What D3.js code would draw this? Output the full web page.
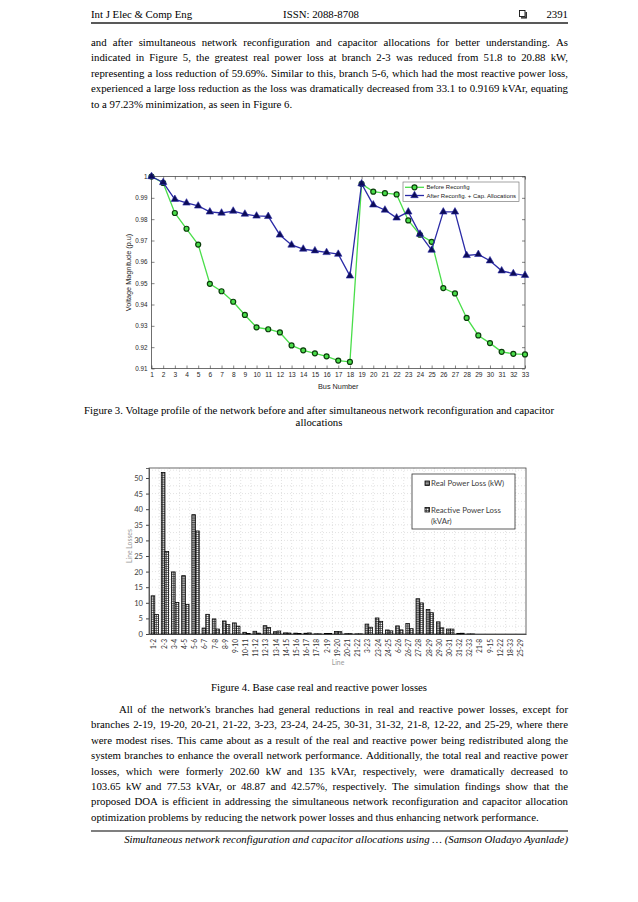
<!DOCTYPE html>
<html><head><meta charset="utf-8">
<script src="https://cdn.jsdelivr.net/npm/d3@7/dist/d3.min.js"></script>
<style>html,body{margin:0;padding:0;background:#fff}svg{display:block}</style>
</head><body>
<script>
// ---------------- DATA ----------------
const busNumbers = [1,2,3,4,5,6,7,8,9,10,11,12,13,14,15,16,17,18,19,20,21,22,23,24,25,26,27,28,29,30,31,32,33];
const voltBefore = [1.0,0.997,0.9829,0.9755,0.9681,0.9497,0.9462,0.9413,0.9351,0.9293,0.9284,0.9269,0.9208,0.9185,0.9171,0.9157,0.9137,0.9131,0.9965,0.9929,0.9922,0.9916,0.9794,0.9727,0.9694,0.9477,0.9452,0.9337,0.9255,0.9219,0.9178,0.9169,0.9166];
const voltAfter  = [1.0,0.9972,0.9893,0.9876,0.9862,0.9834,0.9829,0.9838,0.9824,0.9815,0.9813,0.9726,0.9679,0.9660,0.9652,0.9644,0.9636,0.9534,0.9966,0.9867,0.9843,0.9806,0.9834,0.9730,0.9655,0.9834,0.9834,0.9630,0.9635,0.9605,0.9558,0.9545,0.9537];
const voltTicks = [0.91,0.92,0.93,0.94,0.95,0.96,0.97,0.98,0.99,1];
const voltTickLabels = ["0.91","0.92","0.93","0.94","0.95","0.96","0.97","0.98","0.99","1"];
const voltSeriesNames = ["Before Reconfig","After Reconfig. + Cap. Allocations"];

const branches = ["1-2","2-3","3-4","4-5","5-6","6-7","7-8","8-9","9-10","10-11","11-12","12-13","13-14","14-15","15-16","16-17","17-18","2-19","19-20","20-21","21-22","3-23","23-24","24-25","6-26","26-27","27-28","28-29","29-30","30-31","31-32","32-33","21-8","9-15","12-22","18-33","25-29"];
const realLoss     = [12.24,51.8,19.9,18.7,38.25,1.91,4.84,4.18,3.56,0.55,0.88,2.66,0.73,0.36,0.28,0.25,0.05,0.16,0.83,0.10,0.04,3.18,5.14,1.29,2.60,3.33,11.30,7.83,3.89,1.59,0.21,0.01,0,0,0,0,0];
const reactiveLoss = [6.24,26.4,10.14,9.52,33.02,6.31,1.60,3.00,2.52,0.18,0.29,2.09,0.96,0.32,0.20,0.34,0.04,0.15,0.75,0.12,0.05,2.17,4.06,1.01,1.32,1.70,9.96,6.82,1.98,1.58,0.25,0.02,0,0,0,0,0];
const lossTicks = [0,5,10,15,20,25,30,35,40,45,50];
const lossSeriesNames = ["Real Power Loss (kW)","Reactive Power Loss","(kVAr)"];

// ---------------- TEXT ----------------
const headerLeft = "Int J Elec & Comp Eng", headerMid = "ISSN: 2088-8708", headerPage = "2391";
const para1 = [
 "and after simultaneous network reconfiguration and capacitor allocations for better understanding. As",
 "indicated in Figure 5, the greatest real power loss at branch 2-3 was reduced from 51.8 to 20.88 kW,",
 "representing a loss reduction of 59.69%. Similar to this, branch 5-6, which had the most reactive power loss,",
 "experienced a large loss reduction as the loss was dramatically decreased from 33.1 to 0.9169 kVAr, equating",
 "to a 97.23% minimization, as seen in Figure 6."];
const caption3 = ["Figure 3. Voltage profile of the network before and after simultaneous network reconfiguration and capacitor","allocations"];
const caption4 = "Figure 4. Base case real and reactive power losses";
const para2 = [
 "All of the network's branches had general reductions in real and reactive power losses, except for",
 "branches 2-19, 19-20, 20-21, 21-22, 3-23, 23-24, 24-25, 30-31, 31-32, 21-8, 12-22, and 25-29, where there",
 "were modest rises. This came about as a result of the real and reactive power being redistributed along the",
 "system branches to enhance the overall network performance. Additionally, the total real and reactive power",
 "losses, which were formerly 202.60 kW and 135 kVAr, respectively, were dramatically decreased to",
 "103.65 kW and 77.53 kVAr, or 48.87 and 42.57%, respectively. The simulation findings show that the",
 "proposed DOA is efficient in addressing the simultaneous network reconfiguration and capacitor allocation",
 "optimization problems by reducing the network power losses and thus enhancing network performance."];
const footer = "Simultaneous network reconfiguration and capacitor allocations using … (Samson Oladayo Ayanlade)";

// ---------------- PAGE ----------------
const W = 638, H = 902;
const SERIF = "'Liberation Serif','Times New Roman',Times,serif";
const SANS = "'Liberation Sans',Arial,Helvetica,sans-serif";
const CAL = "Lato,'Open Sans',sans-serif";
const FS = 10.8, LEFT = 91, RIGHT = 568;

const svg = d3.select("body").append("svg").attr("width", W).attr("height", H);
svg.append("rect").attr("width", W).attr("height", H).attr("fill", "#fff");

function plain(str, x, y, anchor, opts = {}) {
  return svg.append("text").attr("x", x).attr("y", y)
    .attr("font-family", opts.family || SERIF).attr("font-size", opts.size || FS)
    .attr("font-style", opts.italic ? "italic" : null)
    .attr("text-anchor", anchor || "start").attr("fill", opts.fill || "#000").text(str);
}
function justify(str, x0, x1, y) {
  const words = str.split(" ");
  const t = svg.append("text").attr("y", y).attr("font-family", SERIF).attr("font-size", FS).attr("fill", "#000");
  const spans = words.map(w => t.append("tspan").text(w));
  const widths = spans.map(s => s.node().getComputedTextLength());
  const gap = (x1 - x0 - d3.sum(widths)) / (words.length - 1);
  let x = x0;
  spans.forEach((s, i) => { s.attr("x", x); x += widths[i] + gap; });
}

// header
plain(headerLeft, LEFT, 18);
plain(headerMid, 321, 18, "middle");
plain(headerPage, RIGHT, 18, "end");
svg.append("rect").attr("x", 519.5).attr("y", 10.5).attr("width", 5.5).attr("height", 6)
  .attr("fill", "none").attr("stroke", "#111").attr("stroke-width", 0.9);
svg.append("path").attr("d", "M521,17.8H526.2V12").attr("fill", "none").attr("stroke", "#111").attr("stroke-width", 1.3);
svg.append("line").attr("x1", LEFT).attr("x2", RIGHT).attr("y1", 23).attr("y2", 23).attr("stroke", "#222").attr("stroke-width", 1.4);

// paragraph 1
const p1y = 46, LH = 15.4;
para1.forEach((s, i) => {
  if (i < para1.length - 1) justify(s, LEFT, RIGHT, p1y + i * LH);
  else plain(s, LEFT, p1y + i * LH);
});

// ---------------- CHART 1 ----------------
const c1 = svg.append("g");
const x1 = d3.scaleLinear().domain([1, 33]).range([151.5, 525]);
const y1 = d3.scaleLinear().domain([0.91, 1]).range([368.5, 176.5]);
const axCol = "#333";
c1.append("rect").attr("x", x1(1)).attr("y", y1(1)).attr("width", x1(33) - x1(1)).attr("height", y1(0.91) - y1(1))
  .attr("fill", "#fff").attr("stroke", axCol).attr("stroke-width", 0.7);
function styleAxis(g, size) {
  g.select(".domain").remove();
  g.selectAll("line").attr("stroke", axCol).attr("stroke-width", 0.6);
  g.selectAll("text").attr("font-family", SANS).attr("font-size", size).attr("fill", "#262626");
}
c1.append("g").attr("transform", `translate(0,${y1(0.91)})`)
  .call(d3.axisBottom(x1).tickValues(busNumbers).tickSize(-3).tickPadding(4).tickFormat(d3.format("d")))
  .call(g => styleAxis(g, 6.6));
c1.append("g").attr("transform", `translate(0,${y1(1)})`)
  .call(d3.axisTop(x1).tickValues(busNumbers).tickSize(-3).tickFormat(""))
  .call(g => styleAxis(g, 6.6));
c1.append("g").attr("transform", `translate(${x1(1)},0)`)
  .call(d3.axisLeft(y1).tickValues(voltTicks).tickSize(-3).tickPadding(4).tickFormat((d, i) => voltTickLabels[i]))
  .call(g => styleAxis(g, 6.3));
c1.append("g").attr("transform", `translate(${x1(33)},0)`)
  .call(d3.axisRight(y1).tickValues(voltTicks).tickSize(-3).tickFormat(""))
  .call(g => styleAxis(g, 6.3));
c1.append("text").attr("x", (x1(1) + x1(33)) / 2).attr("y", 389).attr("text-anchor", "middle")
  .attr("font-family", SANS).attr("font-size", 7.3).attr("fill", "#262626").text("Bus Number");
c1.append("text").attr("transform", `translate(130.5,${(y1(1) + y1(0.91)) / 2}) rotate(-90)`).attr("text-anchor", "middle")
  .attr("font-family", SANS).attr("font-size", 7.3).attr("fill", "#262626").text("Voltage Magnitude (p.u)");

const GREEN = "#4ade4a", GREEN_EDGE = "#0b3d0b", BLUE = "#2a2aa6", BLUE_FILL = "#0c0c58";
const line1 = d3.line().x((d, i) => x1(busNumbers[i])).y(d => y1(d));
c1.append("path").datum(voltBefore).attr("d", line1).attr("fill", "none").attr("stroke", GREEN).attr("stroke-width", 1.3);
c1.selectAll(".mb").data(voltBefore).join("circle").attr("cx", (d, i) => x1(busNumbers[i])).attr("cy", d => y1(d))
  .attr("r", 2.5).attr("fill", GREEN).attr("stroke", GREEN_EDGE).attr("stroke-width", 1.2);
c1.append("path").datum(voltAfter).attr("d", line1).attr("fill", "none").attr("stroke", BLUE).attr("stroke-width", 1.3);
const tri = d3.symbol().type(d3.symbolTriangle).size(24);
c1.selectAll(".ma").data(voltAfter).join("path").attr("d", tri)
  .attr("transform", (d, i) => `translate(${x1(busNumbers[i])},${y1(d)})`)
  .attr("fill", BLUE_FILL).attr("stroke", BLUE).attr("stroke-width", 0.6);

// legend 1
const lg1 = c1.append("g");
lg1.append("rect").attr("x", 403).attr("y", 182).attr("width", 116).attr("height", 19.5)
  .attr("fill", "#fff").attr("stroke", "#666").attr("stroke-width", 0.6);
[[GREEN, 187.3], [BLUE, 195.5]].forEach(([col, yy], i) => {
  lg1.append("line").attr("x1", 405).attr("x2", 424).attr("y1", yy).attr("y2", yy).attr("stroke", col).attr("stroke-width", 1.3);
  if (i === 0) lg1.append("circle").attr("cx", 414.5).attr("cy", yy).attr("r", 2.5).attr("fill", GREEN).attr("stroke", GREEN_EDGE).attr("stroke-width", 1.2);
  else lg1.append("path").attr("d", tri).attr("transform", `translate(414.5,${yy})`).attr("fill", BLUE_FILL).attr("stroke", BLUE).attr("stroke-width", 0.6);
  lg1.append("text").attr("x", 426.5).attr("y", yy + 2.1).attr("font-family", SANS).attr("font-size", 6)
    .attr("fill", "#222").text(voltSeriesNames[i]);
});

// caption 3
plain(caption3[0], 319, 414, "middle");
plain(caption3[1], 319, 425.5, "middle");

// ---------------- CHART 2 ----------------
const c2 = svg.append("g");
const x2 = d3.scaleBand().domain(branches).range([149, 526]);
const x2s = d3.scaleBand().domain(["real", "reactive"]).range([0, x2.bandwidth()]).paddingOuter(0.38).align(0.75);
const y2 = d3.scaleLinear().domain([0, 53.2]).range([634, 468]);
const defs = svg.append("defs");
function pattern(id, s, col) {
  const p = defs.append("pattern").attr("id", id).attr("patternUnits", "userSpaceOnUse").attr("width", s).attr("height", s);
  p.append("rect").attr("width", s).attr("height", s).attr("fill", "#f6f6f6");
  p.append("path").attr("d", `M0,0.3H${s}M0.3,0V${s}`).attr("stroke", col).attr("stroke-width", 0.75);
}
pattern("pReal", 1.8, "#222");
pattern("pReact", 2.0, "#2a2a2a");

// grid
const gridVals = d3.range(2.5, 53.2, 2.5);
c2.append("g").selectAll("line").data(gridVals).join("line")
  .attr("x1", 149).attr("x2", 526).attr("y1", d => y2(d)).attr("y2", d => y2(d))
  .attr("stroke", "#cfcfcf").attr("stroke-width", 0.6).attr("stroke-dasharray", "1,2");
c2.append("g").selectAll("line").data(branches.slice(1)).join("line")
  .attr("x1", d => x2(d)).attr("x2", d => x2(d)).attr("y1", 468).attr("y2", 634)
  .attr("stroke", "#cfcfcf").attr("stroke-width", 0.6).attr("stroke-dasharray", "1,2");
c2.append("rect").attr("x", 149).attr("y", 468).attr("width", 526 - 149).attr("height", 634 - 468)
  .attr("fill", "none").attr("stroke", "#444").attr("stroke-width", 0.8);

// bars
const bars = branches.map((b, i) => [{ b, k: "real", v: realLoss[i] }, { b, k: "reactive", v: reactiveLoss[i] }]).flat();
c2.append("g").selectAll("rect").data(bars.filter(d => d.v > 0)).join("rect")
  .attr("x", d => x2(d.b) + x2s(d.k)).attr("width", x2s.bandwidth())
  .attr("y", d => y2(d.v)).attr("height", d => y2(0) - y2(d.v))
  .attr("fill", d => d.k === "real" ? "url(#pReal)" : "url(#pReact)")
  .attr("stroke", "#000").attr("stroke-width", 0.75);

// axes
c2.append("g").attr("transform", "translate(149,0)")
  .call(d3.axisLeft(y2).tickValues(lossTicks).tickSize(3).tickPadding(3))
  .call(g => { g.select(".domain").attr("stroke", "#444").attr("stroke-width", 0.8);
    g.selectAll("line").attr("stroke", "#444");
    g.selectAll("text").attr("font-family", CAL).attr("font-size", 7.6).attr("fill", "#404040"); });
c2.append("g").attr("transform", "translate(0,634)")
  .call(d3.axisBottom(x2).tickSize(0))
  .call(g => { g.select(".domain").attr("stroke", "#333").attr("stroke-width", 0.8);
    g.selectAll("text").attr("transform", "rotate(-90)").attr("x", -5).attr("y", 0).attr("dy", "0.35em")
      .attr("text-anchor", "end").attr("font-family", CAL).attr("font-size", 6.6).attr("fill", "#333"); });
c2.append("text").attr("transform", "translate(131.5,546) rotate(-90)").attr("text-anchor", "middle")
  .attr("font-family", CAL).attr("font-size", 6.8).attr("fill", "#999").text("Line Losses");
c2.append("text").attr("x", 338).attr("y", 664.5).attr("text-anchor", "middle")
  .attr("font-family", CAL).attr("font-size", 6.8).attr("fill", "#999").text("Line");

// legend 2
const lg2 = c2.append("g");
lg2.append("rect").attr("x", 412).attr("y", 474).attr("width", 103).attr("height", 55)
  .attr("fill", "#fff").attr("stroke", "#333").attr("stroke-width", 0.8);
lg2.append("rect").attr("x", 425).attr("y", 481).attr("width", 4.5).attr("height", 4.5).attr("fill", "url(#pReal)").attr("stroke", "#000").attr("stroke-width", 0.8);
lg2.append("rect").attr("x", 425).attr("y", 507.5).attr("width", 4.5).attr("height", 4.5).attr("fill", "url(#pReact)").attr("stroke", "#000").attr("stroke-width", 0.8);
lg2.append("text").attr("x", 431).attr("y", 486.3).attr("font-family", CAL).attr("font-size", 7.8).attr("fill", "#404040").text(lossSeriesNames[0]);
lg2.append("text").attr("x", 431).attr("y", 512.8).attr("font-family", CAL).attr("font-size", 7.8).attr("fill", "#404040").text(lossSeriesNames[1]);
lg2.append("text").attr("x", 431).attr("y", 523.5).attr("font-family", CAL).attr("font-size", 7.8).attr("fill", "#404040").text(lossSeriesNames[2]);

// caption 4
plain(caption4, 319, 690.5, "middle");

// paragraph 2
const p2y = 713;
para2.forEach((s, i) => {
  const x0 = i === 0 ? 119 : LEFT;
  if (i < para2.length - 1) justify(s, x0, RIGHT, p2y + i * LH);
  else plain(s, LEFT, p2y + i * LH);
});
svg.append("line").attr("x1", LEFT).attr("x2", RIGHT).attr("y1", 831).attr("y2", 831).attr("stroke", "#555").attr("stroke-width", 1.6);
plain(footer, RIGHT, 843, "end", { italic: true });
</script>
</body></html>
